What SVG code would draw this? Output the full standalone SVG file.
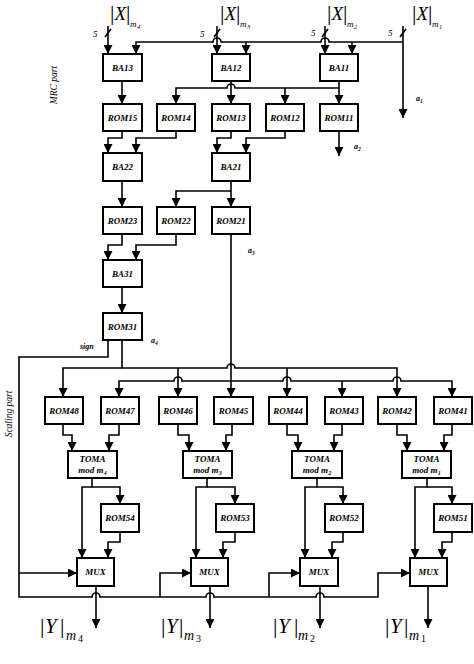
<svg xmlns="http://www.w3.org/2000/svg" width="474" height="664" viewBox="0 0 474 664">
<style>
.b{fill:#fff;stroke:#000;stroke-width:2}
.w{fill:none;stroke:#000;stroke-width:1.6}
.a{marker-end:url(#ah)}
.t{font-family:"Liberation Serif",serif;font-style:italic;font-weight:bold;font-size:9px;text-anchor:middle;fill:#000}
.s{font-family:"Liberation Serif",serif;font-style:italic;font-weight:bold;font-size:8px;fill:#000}
.p{font-family:"Liberation Serif",serif;font-style:italic;font-size:9.5px;text-anchor:middle;fill:#000}
.bar{font-family:"Liberation Serif",serif;font-size:22px;fill:#000}
.v{font-family:"Liberation Serif",serif;font-style:italic;font-size:19px;fill:#000}
.m{font-family:"Liberation Serif",serif;font-style:italic;font-size:9px;fill:#000}
.n{font-family:"Liberation Serif",serif;font-style:italic;font-size:6.5px;fill:#000}
.vy{font-family:"Liberation Serif",serif;font-style:italic;font-size:21px;fill:#000}
.my{font-family:"Liberation Serif",serif;font-style:italic;font-size:14px;fill:#000}
.ny{font-family:"Liberation Serif",serif;font-size:10px;fill:#000}
</style>
<defs>
<marker id="ah" viewBox="0 0 10 10" refX="10" refY="5" markerWidth="9" markerHeight="9" markerUnits="userSpaceOnUse" orient="auto"><path d="M0,0 L10,5 L0,10 z" fill="#000"/></marker>
</defs>

<g id="labels">
<text x="110" y="20"><tspan class="bar">|</tspan><tspan class="v" x="114.5">X</tspan><tspan class="bar" x="126">|</tspan><tspan class="m" x="130" y="27">m</tspan><tspan class="n" x="137" y="29">4</tspan></text>
<text x="220" y="20"><tspan class="bar">|</tspan><tspan class="v" x="224.5">X</tspan><tspan class="bar" x="236">|</tspan><tspan class="m" x="240" y="27">m</tspan><tspan class="n" x="247" y="29">3</tspan></text>
<text x="327" y="20"><tspan class="bar">|</tspan><tspan class="v" x="331.5">X</tspan><tspan class="bar" x="343">|</tspan><tspan class="m" x="347" y="27">m</tspan><tspan class="n" x="354" y="29">2</tspan></text>
<text x="412" y="20"><tspan class="bar">|</tspan><tspan class="v" x="416.5">X</tspan><tspan class="bar" x="428">|</tspan><tspan class="m" x="432" y="27">m</tspan><tspan class="n" x="439" y="29">1</tspan></text>
<text class="m" x="93" y="37">5</text>
<text class="m" x="200" y="37">5</text>
<text class="m" x="311" y="36">5</text>
<text class="m" x="388" y="36">5</text>
<text class="s" x="416" y="101">a<tspan font-size="5.5" dy="1.5">1</tspan></text>
<text class="s" x="354" y="149">a<tspan font-size="5.5" dy="1.5">2</tspan></text>
<text class="s" x="248" y="253">a<tspan font-size="5.5" dy="1.5">3</tspan></text>
<text class="s" x="151" y="343">a<tspan font-size="5.5" dy="1.5">4</tspan></text>
<text class="s" x="80" y="349">sign</text>
<text class="p" x="57" y="85" transform="rotate(-90 57 85)">MRC part</text>
<text class="p" x="12" y="414" transform="rotate(-90 12 414)">Scaling part</text>
<text x="40" y="633"><tspan class="bar">|</tspan><tspan class="vy" x="45">Y</tspan><tspan class="bar" x="60">|</tspan><tspan class="my" x="66" y="640">m</tspan><tspan class="ny" x="78" y="642">4</tspan></text>
<text x="161" y="633"><tspan class="bar">|</tspan><tspan class="vy" x="166">Y</tspan><tspan class="bar" x="179">|</tspan><tspan class="my" x="184" y="640">m</tspan><tspan class="ny" x="196" y="642">3</tspan></text>
<text x="273" y="633"><tspan class="bar">|</tspan><tspan class="vy" x="278">Y</tspan><tspan class="bar" x="294">|</tspan><tspan class="my" x="298" y="640">m</tspan><tspan class="ny" x="310" y="642">2</tspan></text>
<text x="385" y="633"><tspan class="bar">|</tspan><tspan class="vy" x="390">Y</tspan><tspan class="bar" x="404">|</tspan><tspan class="my" x="409" y="640">m</tspan><tspan class="ny" x="421" y="642">1</tspan></text>
</g>

<g id="connectors" class="w">
<path class="a" d="M108,26 V54"/>
<path class="a" d="M217,26 V54"/>
<path class="a" d="M325,26 V54"/>
<path class="a" d="M403,26 V118"/>
<path d="M105,37 L111,29 M214,37 L220,29 M322,37 L328,29 M400,37 L406,29"/>
<path class="a" d="M403,42 H329 A4,4 0 0 0 321,42 H221 A4,4 0 0 0 213,42 H136 V54"/>
<path class="a" d="M246,42 V54"/>
<path class="a" d="M352,42 V54"/>
<path class="a" d="M122,81 V104"/>
<path class="a" d="M231,81 V104"/>
<path class="a" d="M339,81 V104"/>
<path class="a" d="M339,88 H235 A4,4 0 0 0 227,88 H176 V104"/>
<path class="a" d="M285,88 V104"/>
<path class="a" d="M339,131 V156"/>
<path class="a" d="M122,131 V138 H108 V153"/>
<path class="a" d="M176,131 V138 H136 V153"/>
<path class="a" d="M231,131 V138 H217 V153"/>
<path class="a" d="M285,131 V138 H246 V153"/>
<path class="a" d="M122,181 V207"/>
<path class="a" d="M231,181 V207"/>
<path class="a" d="M231,191 H176 V207"/>
<path class="a" d="M122,234 V245 H108 V260"/>
<path class="a" d="M176,234 V245 H136 V260"/>
<path class="a" d="M122,287 V313"/>
<path class="a" d="M122,340 V368 H227 A4,4 0 0 1 235,368 H397 V397"/>
<path class="a" d="M122,368 H63 V397"/>
<path class="a" d="M178,368 V397"/>
<path class="a" d="M287,368 V397"/>
<path class="a" d="M231,234 V397"/>
<path class="a" d="M231,381 H182 A4,4 0 0 0 174,381 H119 V397"/>
<path class="a" d="M231,381 H283 A4,4 0 0 1 291,381 H342 V397"/>
<path class="a" d="M342,381 H393 A4,4 0 0 1 401,381 H452 V397"/>
<path class="a" d="M63,424 V435 H72 V451"/>
<path class="a" d="M119,424 V435 H109 V451"/>
<path class="a" d="M178,424 V435 H189 V451"/>
<path class="a" d="M232,424 V435 H226 V451"/>
<path class="a" d="M287,424 V435 H298 V451"/>
<path class="a" d="M342,424 V435 H334 V451"/>
<path class="a" d="M397,424 V435 H407 V451"/>
<path class="a" d="M452,424 V435 H444 V451"/>
<path class="a" d="M92,478 V487 H82 V558"/>
<path class="a" d="M92,487 H120 V504"/>
<path class="a" d="M207,478 V487 H196 V558"/>
<path class="a" d="M207,487 H235 V504"/>
<path class="a" d="M317,478 V487 H305 V558"/>
<path class="a" d="M317,487 H343 V504"/>
<path class="a" d="M427,478 V487 H415 V558"/>
<path class="a" d="M427,487 H452 V504"/>
<path class="a" d="M120,532 V542 H108 V558"/>
<path class="a" d="M235,532 V542 H223 V558"/>
<path class="a" d="M343,532 V542 H332 V558"/>
<path class="a" d="M452,532 V542 H442 V558"/>
<path class="a" d="M96,586 V628"/>
<path class="a" d="M210,586 V628"/>
<path class="a" d="M320,586 V628"/>
<path class="a" d="M428,586 V628"/>
<path class="a" d="M108,340 V357 H19 V597 H92 A4,4 0 0 1 100,597 H206 A4,4 0 0 1 214,597 H316 A4,4 0 0 1 324,597 H378 V573 H410"/>
<path class="a" d="M19,573 H77"/>
<path class="a" d="M160,597 V573 H191"/>
<path class="a" d="M269,597 V573 H300"/>
</g>

<g id="BA13"><rect class="b" x="103" y="54" width="39" height="27"/><text class="t" x="122.5" y="71">BA13</text></g>
<g id="BA12"><rect class="b" x="212" y="54" width="38" height="27"/><text class="t" x="231" y="71">BA12</text></g>
<g id="BA11"><rect class="b" x="320" y="54" width="38" height="27"/><text class="t" x="339" y="71">BA11</text></g>
<g id="ROM15"><rect class="b" x="103" y="104" width="39" height="27"/><text class="t" x="122.5" y="121">ROM15</text></g>
<g id="ROM14"><rect class="b" x="157" y="104" width="38" height="27"/><text class="t" x="176" y="121">ROM14</text></g>
<g id="ROM13"><rect class="b" x="212" y="104" width="38" height="27"/><text class="t" x="231" y="121">ROM13</text></g>
<g id="ROM12"><rect class="b" x="266" y="104" width="38" height="27"/><text class="t" x="285" y="121">ROM12</text></g>
<g id="ROM11"><rect class="b" x="320" y="104" width="38" height="27"/><text class="t" x="339" y="121">ROM11</text></g>
<g id="BA22"><rect class="b" x="103" y="153" width="39" height="28"/><text class="t" x="122.5" y="170">BA22</text></g>
<g id="BA21"><rect class="b" x="212" y="153" width="38" height="28"/><text class="t" x="231" y="170">BA21</text></g>
<g id="ROM23"><rect class="b" x="103" y="207" width="39" height="27"/><text class="t" x="122.5" y="224">ROM23</text></g>
<g id="ROM22"><rect class="b" x="157" y="207" width="38" height="27"/><text class="t" x="176" y="224">ROM22</text></g>
<g id="ROM21"><rect class="b" x="212" y="207" width="38" height="27"/><text class="t" x="231" y="224">ROM21</text></g>
<g id="BA31"><rect class="b" x="103" y="260" width="39" height="27"/><text class="t" x="122.5" y="277">BA31</text></g>
<g id="ROM31"><rect class="b" x="103" y="313" width="39" height="27"/><text class="t" x="122.5" y="330">ROM31</text></g>
<g id="ROM48"><rect class="b" x="45" y="397" width="38" height="27"/><text class="t" x="64" y="414">ROM48</text></g>
<g id="ROM47"><rect class="b" x="101" y="397" width="38" height="27"/><text class="t" x="120" y="414">ROM47</text></g>
<g id="ROM46"><rect class="b" x="159" y="397" width="38" height="27"/><text class="t" x="178" y="414">ROM46</text></g>
<g id="ROM45"><rect class="b" x="214" y="397" width="39" height="27"/><text class="t" x="233.5" y="414">ROM45</text></g>
<g id="ROM44"><rect class="b" x="269" y="397" width="38" height="27"/><text class="t" x="288" y="414">ROM44</text></g>
<g id="ROM43"><rect class="b" x="325" y="397" width="38" height="27"/><text class="t" x="344" y="414">ROM43</text></g>
<g id="ROM42"><rect class="b" x="378" y="397" width="38" height="27"/><text class="t" x="397" y="414">ROM42</text></g>
<g id="ROM41"><rect class="b" x="434" y="397" width="38" height="27"/><text class="t" x="453" y="414">ROM41</text></g>
<g id="TOMA4"><rect class="b" x="68" y="451" width="49" height="27"/><text class="t" x="92.5" y="462">TOMA</text><text class="t" x="92.5" y="473">mod m<tspan font-size="6" dy="1.5">4</tspan></text></g>
<g id="TOMA3"><rect class="b" x="183" y="451" width="49" height="27"/><text class="t" x="207.5" y="462">TOMA</text><text class="t" x="207.5" y="473">mod m<tspan font-size="6" dy="1.5">3</tspan></text></g>
<g id="TOMA2"><rect class="b" x="292" y="451" width="50" height="27"/><text class="t" x="317" y="462">TOMA</text><text class="t" x="317" y="473">mod m<tspan font-size="6" dy="1.5">2</tspan></text></g>
<g id="TOMA1"><rect class="b" x="402" y="451" width="49" height="27"/><text class="t" x="426.5" y="462">TOMA</text><text class="t" x="426.5" y="473">mod m<tspan font-size="6" dy="1.5">1</tspan></text></g>
<g id="ROM54"><rect class="b" x="101" y="504" width="38" height="28"/><text class="t" x="120" y="521">ROM54</text></g>
<g id="ROM53"><rect class="b" x="216" y="504" width="38" height="28"/><text class="t" x="235" y="521">ROM53</text></g>
<g id="ROM52"><rect class="b" x="325" y="504" width="38" height="28"/><text class="t" x="344" y="521">ROM52</text></g>
<g id="ROM51"><rect class="b" x="434" y="504" width="38" height="28"/><text class="t" x="453" y="521">ROM51</text></g>
<g id="MUX4"><rect class="b" x="77" y="558" width="37" height="28"/><text class="t" x="95.5" y="575">MUX</text></g>
<g id="MUX3"><rect class="b" x="191" y="558" width="37" height="28"/><text class="t" x="209.5" y="575">MUX</text></g>
<g id="MUX2"><rect class="b" x="300" y="558" width="38" height="28"/><text class="t" x="319" y="575">MUX</text></g>
<g id="MUX1"><rect class="b" x="410" y="558" width="37" height="28"/><text class="t" x="428.5" y="575">MUX</text></g>
</svg>
